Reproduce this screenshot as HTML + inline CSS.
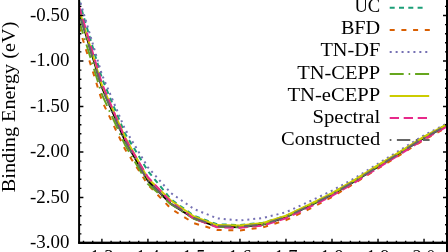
<!DOCTYPE html>
<html><head><meta charset="utf-8"><style>
html,body{margin:0;padding:0;background:#fff;}
body{width:448px;height:252px;overflow:hidden;}
svg{display:block;}
</style></head><body>
<svg width="448" height="252" viewBox="0 0 448 252">
<rect width="448" height="252" fill="#fff"/>
<defs><clipPath id="pc"><rect x="79" y="-5" width="367" height="248"/></clipPath></defs>
<g clip-path="url(#pc)" fill="none" stroke-width="2" stroke-linejoin="round">
<path d="M78.89,11.34 L101.90,87.44 L124.91,140.60 L147.92,180.73 L170.93,204.00 L193.94,218.50 L216.95,226.60 L239.96,227.30 L262.97,224.60 L285.98,217.20 L308.99,206.20 L332.00,194.70 L355.01,181.20 L378.02,166.70 L401.03,152.50 L424.04,138.00 L447.05,125.60" stroke="#000000"/>
<path d="M78.89,0.44 L101.90,78.19 L124.91,133.32 L147.92,171.00 L170.93,199.30 L193.94,215.80 L216.95,224.30 L239.96,225.00 L262.97,222.80 L285.98,215.80 L308.99,205.00 L332.00,193.50 L355.01,180.00 L378.02,165.50 L401.03,151.50 L424.04,137.00 L447.05,124.60" stroke="#1b9e77" stroke-dasharray="5 4.3"/>
<path d="M78.89,26.86 L101.90,100.61 L124.91,149.08 L147.92,184.60 L170.93,208.70 L193.94,223.20 L216.95,229.90 L239.96,230.40 L262.97,227.30 L285.98,220.20 L308.99,209.20 L332.00,197.00 L355.01,183.00 L378.02,168.50 L401.03,154.30 L424.04,139.80 L447.05,127.40" stroke="#d95f02" stroke-dasharray="5 6.7"/>
<path d="M78.89,-2.86 L101.90,74.54 L124.91,128.87 L147.92,167.30 L170.93,193.10 L193.94,209.00 L216.95,218.30 L239.96,220.50 L262.97,218.00 L285.98,212.20 L308.99,201.70 L332.00,190.70 L355.01,178.00 L378.02,163.70 L401.03,149.50 L424.04,135.30 L447.05,123.40" stroke="#7570b3" stroke-dasharray="2 3.93"/>
<path d="M78.89,20.26 L101.90,94.45 L124.91,144.64 L147.92,184.12 L170.93,204.20 L193.94,218.80 L216.95,226.90 L239.96,227.10 L262.97,224.30 L285.98,216.70 L308.99,205.70 L332.00,194.10 L355.01,180.50 L378.02,166.00 L401.03,151.70 L424.04,137.20 L447.05,124.80" stroke="#66a61e" stroke-dasharray="14 4.9 1.6 4.9"/>
<path d="M78.89,8.70 L101.90,85.20 L124.91,136.96 L147.92,178.56 L170.93,200.50 L193.94,216.50 L216.95,225.10 L239.96,225.50 L262.97,223.00 L285.98,215.70 L308.99,204.70 L332.00,193.20 L355.01,179.70 L378.02,165.20 L401.03,151.00 L424.04,136.60 L447.05,124.20" stroke="#cccc00"/>
<path d="M78.89,5.72 L101.90,83.51 L124.91,138.37 L147.92,177.20 L170.93,202.00 L193.94,218.60 L216.95,227.20 L239.96,227.80 L262.97,225.50 L285.98,218.30 L308.99,207.40 L332.00,195.90 L355.01,182.40 L378.02,167.90 L401.03,153.70 L424.04,139.10 L447.05,126.60" stroke="#e7298a" stroke-dasharray="9.3 4.7"/>
<path d="M78.89,12.00 L101.90,88.00 L124.91,141.00 L147.92,181.00 L170.93,203.50 L193.94,218.00 L216.95,226.30 L239.96,226.80 L262.97,224.30 L285.98,217.00 L308.99,206.00 L332.00,194.50 L355.01,181.00 L378.02,166.50 L401.03,152.30 L424.04,137.80 L447.05,125.40" stroke="#666666" stroke-dasharray="1.7 5.5 13.4 5.5"/>
</g>
<path d="M79.1,-3 L79.1,243.0" fill="none" stroke="#000" stroke-width="2"/>
<rect x="78.1" y="241.65" width="370" height="2.35" fill="#000"/>
<rect x="446" y="0" width="2" height="252" fill="#000"/>
<path d="M79.4,233.90 h2.0 M447,233.90 h-2.0 M79.4,224.80 h2.0 M447,224.80 h-2.0 M79.4,215.70 h2.0 M447,215.70 h-2.0 M79.4,206.60 h2.0 M447,206.60 h-2.0 M79.4,197.50 h4.0 M447,197.50 h-4.0 M79.4,188.40 h2.0 M447,188.40 h-2.0 M79.4,179.30 h2.0 M447,179.30 h-2.0 M79.4,170.20 h2.0 M447,170.20 h-2.0 M79.4,161.10 h2.0 M447,161.10 h-2.0 M79.4,152.00 h4.0 M447,152.00 h-4.0 M79.4,142.90 h2.0 M447,142.90 h-2.0 M79.4,133.80 h2.0 M447,133.80 h-2.0 M79.4,124.70 h2.0 M447,124.70 h-2.0 M79.4,115.60 h2.0 M447,115.60 h-2.0 M79.4,106.50 h4.0 M447,106.50 h-4.0 M79.4,97.40 h2.0 M447,97.40 h-2.0 M79.4,88.30 h2.0 M447,88.30 h-2.0 M79.4,79.20 h2.0 M447,79.20 h-2.0 M79.4,70.10 h2.0 M447,70.10 h-2.0 M79.4,61.00 h4.0 M447,61.00 h-4.0 M79.4,51.90 h2.0 M447,51.90 h-2.0 M79.4,42.80 h2.0 M447,42.80 h-2.0 M79.4,33.70 h2.0 M447,33.70 h-2.0 M79.4,24.60 h2.0 M447,24.60 h-2.0 M79.4,15.50 h4.0 M447,15.50 h-4.0 M79.4,6.40 h2.0 M447,6.40 h-2.0 M83.49,243.0 v-2.3 M92.70,243.0 v-2.3 M101.90,243.0 v-4.2 M111.10,243.0 v-2.3 M120.31,243.0 v-2.3 M129.51,243.0 v-2.3 M138.72,243.0 v-2.3 M147.92,243.0 v-4.2 M157.12,243.0 v-2.3 M166.33,243.0 v-2.3 M175.53,243.0 v-2.3 M184.74,243.0 v-2.3 M193.94,243.0 v-4.2 M203.14,243.0 v-2.3 M212.35,243.0 v-2.3 M221.55,243.0 v-2.3 M230.76,243.0 v-2.3 M239.96,243.0 v-4.2 M249.16,243.0 v-2.3 M258.37,243.0 v-2.3 M267.57,243.0 v-2.3 M276.78,243.0 v-2.3 M285.98,243.0 v-4.2 M295.18,243.0 v-2.3 M304.39,243.0 v-2.3 M313.59,243.0 v-2.3 M322.80,243.0 v-2.3 M332.00,243.0 v-4.2 M341.20,243.0 v-2.3 M350.41,243.0 v-2.3 M359.61,243.0 v-2.3 M368.82,243.0 v-2.3 M378.02,243.0 v-4.2 M387.22,243.0 v-2.3 M396.43,243.0 v-2.3 M405.63,243.0 v-2.3 M414.84,243.0 v-2.3 M424.04,243.0 v-4.2 M433.24,243.0 v-2.3 M442.45,243.0 v-2.3" stroke="#000" stroke-width="1.4" fill="none"/>
<g font-family="Liberation Serif, DejaVu Serif, serif" fill="#000">
<text x="69.4" y="20.60" text-anchor="end" font-size="18.5" textLength="39.4" lengthAdjust="spacingAndGlyphs">-0.50</text>
<text x="69.4" y="66.10" text-anchor="end" font-size="18.5" textLength="39.4" lengthAdjust="spacingAndGlyphs">-1.00</text>
<text x="69.4" y="111.60" text-anchor="end" font-size="18.5" textLength="39.4" lengthAdjust="spacingAndGlyphs">-1.50</text>
<text x="69.4" y="157.10" text-anchor="end" font-size="18.5" textLength="39.4" lengthAdjust="spacingAndGlyphs">-2.00</text>
<text x="69.4" y="202.60" text-anchor="end" font-size="18.5" textLength="39.4" lengthAdjust="spacingAndGlyphs">-2.50</text>
<text x="69.4" y="248.10" text-anchor="end" font-size="18.5" textLength="39.4" lengthAdjust="spacingAndGlyphs">-3.00</text>
<text x="101.90" y="263" text-anchor="middle" font-size="18.5">1.3</text>
<text x="147.92" y="263" text-anchor="middle" font-size="18.5">1.4</text>
<text x="193.94" y="263" text-anchor="middle" font-size="18.5">1.5</text>
<text x="239.96" y="263" text-anchor="middle" font-size="18.5">1.6</text>
<text x="285.98" y="263" text-anchor="middle" font-size="18.5">1.7</text>
<text x="332.00" y="263" text-anchor="middle" font-size="18.5">1.8</text>
<text x="378.02" y="263" text-anchor="middle" font-size="18.5">1.9</text>
<text x="424.04" y="263" text-anchor="middle" font-size="18.5">2.0</text>
<text transform="translate(15,192.2) rotate(-90)" x="0" y="0" font-size="18.5" textLength="170.6" lengthAdjust="spacingAndGlyphs">Binding Energy (eV)</text>
<text x="380.2" y="12.2" text-anchor="end" font-size="18.5" textLength="25.8" lengthAdjust="spacingAndGlyphs">UC</text>
<path d="M389.7,7.8 H424" stroke="#1b9e77" stroke-width="2" fill="none" stroke-dasharray="5 4.3"/>
<text x="380.2" y="34.2" text-anchor="end" font-size="18.5" textLength="39.3" lengthAdjust="spacingAndGlyphs">BFD</text>
<path d="M389.7,30.0 H429.8" stroke="#d95f02" stroke-width="2" fill="none" stroke-dasharray="5 6.7"/>
<text x="380.2" y="56.3" text-anchor="end" font-size="18.5" textLength="59.8" lengthAdjust="spacingAndGlyphs">TN-DF</text>
<path d="M389.7,52.0 H429.6" stroke="#7570b3" stroke-width="2" fill="none" stroke-dasharray="2 3.93"/>
<text x="380.2" y="78.5" text-anchor="end" font-size="18.5" textLength="83.0" lengthAdjust="spacingAndGlyphs">TN-CEPP</text>
<path d="M389.7,74.0 H429.6" stroke="#66a61e" stroke-width="2" fill="none" stroke-dasharray="14 4.9 1.6 4.9"/>
<text x="380.2" y="100.7" text-anchor="end" font-size="18.5" textLength="92.8" lengthAdjust="spacingAndGlyphs">TN-eCEPP</text>
<path d="M389.7,96.0 H429.2" stroke="#cccc00" stroke-width="2" fill="none"/>
<text x="380.2" y="123.0" text-anchor="end" font-size="18.5" textLength="67.8" lengthAdjust="spacingAndGlyphs">Spectral</text>
<path d="M389.7,118.0 H429.6" stroke="#e7298a" stroke-width="2" fill="none" stroke-dasharray="9.3 4.7"/>
<text x="380.2" y="145.2" text-anchor="end" font-size="18.5" textLength="99.2" lengthAdjust="spacingAndGlyphs">Constructed</text>
<path d="M389.7,140.0 H429.6" stroke="#666666" stroke-width="2" fill="none" stroke-dasharray="1.7 5.5 13.4 5.5"/>
</g>
</svg>
</body></html>
